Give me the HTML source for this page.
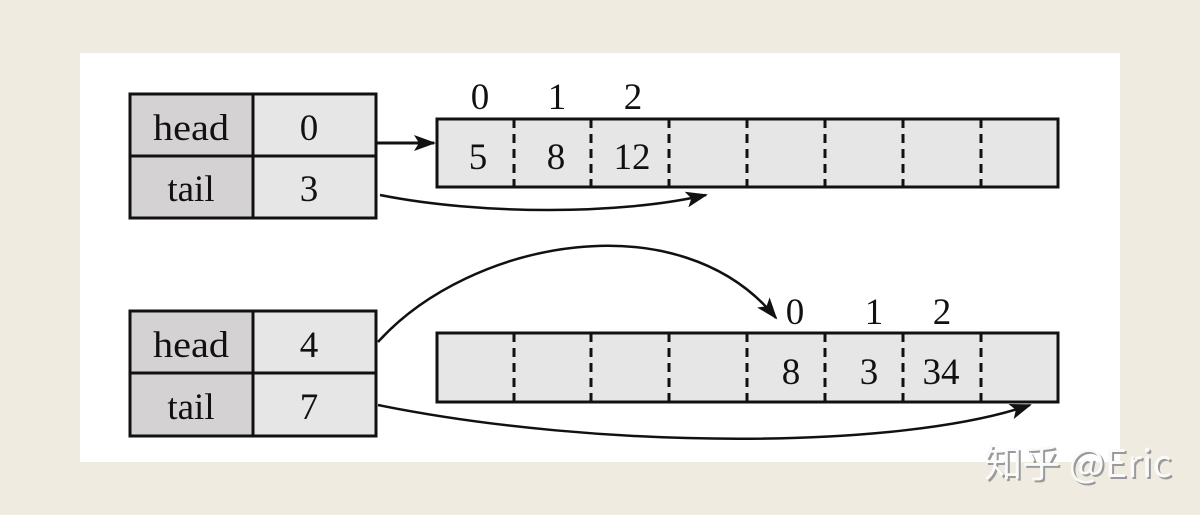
<!DOCTYPE html>
<html><head><style>
body{margin:0;width:1200px;height:515px;background:#efebe0;overflow:hidden}
</style></head><body>
<svg width="1200" height="515" xmlns="http://www.w3.org/2000/svg" style="position:absolute;left:0;top:0">
<defs>
<marker id="b" markerWidth="22" markerHeight="16" refX="20" refY="8" orient="auto" markerUnits="userSpaceOnUse" viewBox="0 0 22 16">
<path d="M0,0 L22,8 L0,16 L5,8 Z" fill="#111"/></marker>
</defs>
<rect x="80" y="53" width="1040" height="409" fill="#fff"/>
<g font-family="Liberation Serif, serif" font-size="37" fill="#111" text-anchor="middle">
<rect x="130" y="94" width="123" height="124" fill="#d4d2d2"/>
<rect x="253" y="94" width="123" height="124" fill="#e6e6e6"/>
<rect x="130" y="94" width="246" height="124" fill="none" stroke="#111" stroke-width="3"/>
<line x1="253" y1="94" x2="253" y2="218" stroke="#111" stroke-width="3"/>
<line x1="130" y1="156" x2="376" y2="156" stroke="#111" stroke-width="3"/>
<text x="191" y="140" textLength="76" lengthAdjust="spacingAndGlyphs">head</text><text x="309" y="140">0</text>
<text x="191" y="201">tail</text><text x="309" y="201">3</text>
<rect x="437" y="119" width="621" height="68" fill="#e6e6e6" stroke="#111" stroke-width="3"/>
<g stroke="#111" stroke-width="3" stroke-dasharray="9,6">
<line x1="514" y1="119" x2="514" y2="187"/><line x1="591" y1="119" x2="591" y2="187"/><line x1="669" y1="119" x2="669" y2="187"/><line x1="747" y1="119" x2="747" y2="187"/><line x1="825" y1="119" x2="825" y2="187"/><line x1="903" y1="119" x2="903" y2="187"/><line x1="981" y1="119" x2="981" y2="187"/>
</g>
<text x="480" y="109">0</text><text x="557" y="109">1</text><text x="633" y="109">2</text>
<text x="478" y="169">5</text><text x="556" y="169">8</text><text x="632" y="169">12</text>
<rect x="130" y="311" width="123" height="125" fill="#d4d2d2"/>
<rect x="253" y="311" width="123" height="125" fill="#e6e6e6"/>
<rect x="130" y="311" width="246" height="125" fill="none" stroke="#111" stroke-width="3"/>
<line x1="253" y1="311" x2="253" y2="436" stroke="#111" stroke-width="3"/>
<line x1="130" y1="373" x2="376" y2="373" stroke="#111" stroke-width="3"/>
<text x="191" y="357" textLength="76" lengthAdjust="spacingAndGlyphs">head</text><text x="309" y="357">4</text>
<text x="191" y="419">tail</text><text x="309" y="419">7</text>
<rect x="437" y="333" width="621" height="69" fill="#e6e6e6" stroke="#111" stroke-width="3"/>
<g stroke="#111" stroke-width="3" stroke-dasharray="9,6">
<line x1="514" y1="333" x2="514" y2="402"/><line x1="591" y1="333" x2="591" y2="402"/><line x1="669" y1="333" x2="669" y2="402"/><line x1="747" y1="333" x2="747" y2="402"/><line x1="825" y1="333" x2="825" y2="402"/><line x1="903" y1="333" x2="903" y2="402"/><line x1="981" y1="333" x2="981" y2="402"/>
</g>
<text x="795" y="324">0</text><text x="874" y="324">1</text><text x="942" y="324">2</text>
<text x="791" y="384">8</text><text x="869" y="384">3</text><text x="941" y="384">34</text>
</g>
<g fill="none" stroke="#111" stroke-width="2.5">
<line x1="376" y1="143" x2="434" y2="143" stroke-width="3" marker-end="url(#b)"/>
<path d="M380,195 C480,215 620,215 706,195" marker-end="url(#b)"/>
<path d="M378,342 C470,240 680,200 776,318" marker-end="url(#b)"/>
<path d="M378,405 C600,450 900,450 1030,405" marker-end="url(#b)"/>
</g>
<text x="1080" y="479" font-family="Noto Sans CJK SC, sans-serif" font-size="38" fill="#9a9a9a" text-anchor="middle">知乎 @Eric</text>
<text x="1078" y="477" font-family="Noto Sans CJK SC, sans-serif" font-size="38" fill="#fafafa" text-anchor="middle">知乎 @Eric</text>
</svg>
</body></html>
